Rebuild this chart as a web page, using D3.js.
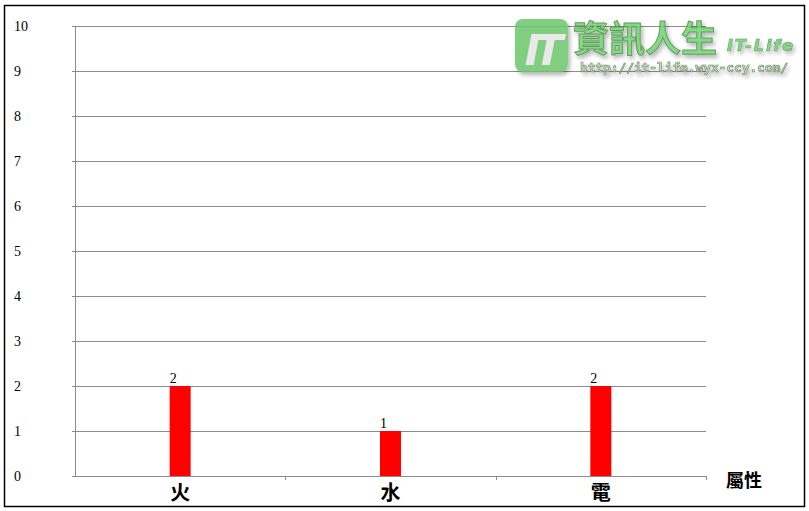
<!DOCTYPE html>
<html><head><meta charset="utf-8">
<script src="https://cdn.jsdelivr.net/npm/d3@7"></script>
<style>
body{margin:0;background:#fff;}
svg{display:block;}
</style></head>
<body>
<svg id="c" width="809" height="511"></svg>
<script>
const categories = ["火", "水", "電"];
const values = [2, 1, 2];
const yTicks = [0,1,2,3,4,5,6,7,8,9,10];
const axisTitle = "屬性";
const logoTitle = "資訊人生";
const logoSub = "IT-Life";
const logoUrl = "http://it-life.wyx-ccy.com/";

const svg = d3.select("#c");
const m = {left:75, right:706, top:26, bottom:476};
const x = d3.scaleBand().domain(categories).range([m.left, m.right]);
const y = d3.scaleLinear().domain([0,10]).range([m.bottom, m.top]);

// border
svg.append("rect").attr("x",4.5).attr("y",5.5).attr("width",800).attr("height",501)
  .attr("fill","#fff").attr("stroke","#000").attr("stroke-width",1.5);

// gridlines
svg.append("g").selectAll("line").data(yTicks).join("line")
  .attr("x1",m.left-3).attr("x2",m.right)
  .attr("y1",d=>Math.round(y(d))+0.5).attr("y2",d=>Math.round(y(d))+0.5)
  .attr("stroke","#8c8c8c").attr("stroke-width",1);

// y axis line
svg.append("line").attr("x1",m.left+0.5).attr("x2",m.left+0.5).attr("y1",m.top).attr("y2",m.bottom)
  .attr("stroke","#8c8c8c");

// y tick labels
svg.append("g").selectAll("text").data(yTicks).join("text")
  .attr("x",14).attr("y",d=>y(d)).attr("dy","0.35em")
  .attr("font-family","'Liberation Serif', 'DejaVu Serif', serif").attr("font-size",14)
  .attr("fill","#000").text(d=>d);

// x ticks at band boundaries
const bounds = categories.map(c=>x(c)).concat([m.right]);
svg.append("g").selectAll("line").data(bounds.slice(1)).join("line")
  .attr("x1",d=>Math.round(d)+0.5).attr("x2",d=>Math.round(d)+0.5)
  .attr("y1",m.bottom).attr("y2",m.bottom+4).attr("stroke","#8c8c8c");

// bars
const bw = 21;
svg.append("g").selectAll("rect").data(values).join("rect")
  .attr("x",(d,i)=>x(categories[i])+x.bandwidth()/2-bw/2)
  .attr("y",d=>y(d)).attr("width",bw).attr("height",d=>y(0)-y(d))
  .attr("fill","#ff0000");

// value labels
svg.append("g").selectAll("text").data(values).join("text")
  .attr("x",(d,i)=>x(categories[i])+x.bandwidth()/2-7)
  .attr("y",d=>y(d)-3)
  .attr("text-anchor","middle")
  .attr("font-family","'Liberation Serif', 'DejaVu Serif', serif").attr("font-size",14)
  .text(d=>d);

// category labels
svg.append("g").selectAll("text").data(categories).join("text")
  .attr("x",d=>x(d)+x.bandwidth()/2).attr("y",500)
  .attr("text-anchor","middle")
  .attr("font-family","'Noto Sans CJK TC', sans-serif").attr("font-weight","bold").attr("font-size",20)
  .text(d=>d);

// axis title
svg.append("text").attr("x",726).attr("y",487)
  .attr("font-family","'Noto Sans CJK TC', sans-serif").attr("font-weight","bold").attr("font-size",18)
  .text(axisTitle);

// watermark logo
const lg = svg.append("g").attr("opacity",0.85);
const defs = svg.append("defs");
const f = defs.append("filter").attr("id","sh").attr("x","-10%").attr("y","-10%").attr("width","130%").attr("height","140%");
f.append("feDropShadow").attr("dx",2).attr("dy",3).attr("stdDeviation",2).attr("flood-color","#000").attr("flood-opacity",0.35);
lg.append("rect").attr("x",515).attr("y",19).attr("width",53).attr("height",53).attr("rx",8)
  .attr("fill","#6cc66c").attr("filter","url(#sh)");
lg.append("text").attr("x",541).attr("y",65).attr("text-anchor","middle")
  .attr("font-family","'DejaVu Sans', sans-serif").attr("font-weight","bold").attr("font-style","italic")
  .attr("font-size",42).attr("fill","#e6e6e6").attr("letter-spacing",-6).text("IT");
lg.append("text").attr("x",573).attr("y",52)
  .attr("font-family","'Noto Sans CJK TC', sans-serif").attr("font-weight","bold")
  .attr("font-size",36).attr("fill","#6ed46e").attr("stroke","#4a8a4a").attr("stroke-width",1)
  .attr("filter","url(#sh)").text(logoTitle);
lg.append("text").attr("x",727).attr("y",51)
  .attr("font-family","'DejaVu Sans', sans-serif").attr("font-weight","bold").attr("font-style","italic")
  .attr("font-size",16).attr("fill","#6ed46e").attr("stroke","#4a8a4a").attr("stroke-width",0.6)
  .attr("filter","url(#sh)").attr("textLength",66).text(logoSub);
lg.append("text").attr("x",580).attr("y",72)
  .attr("font-family","'DejaVu Sans Mono', monospace").attr("font-weight","bold")
  .attr("font-size",13).attr("fill","#b8e0b0").attr("stroke","#6a7a60").attr("stroke-width",0.7)
  .attr("filter","url(#sh)").attr("textLength",208).text(logoUrl);
</script>
</body></html>
